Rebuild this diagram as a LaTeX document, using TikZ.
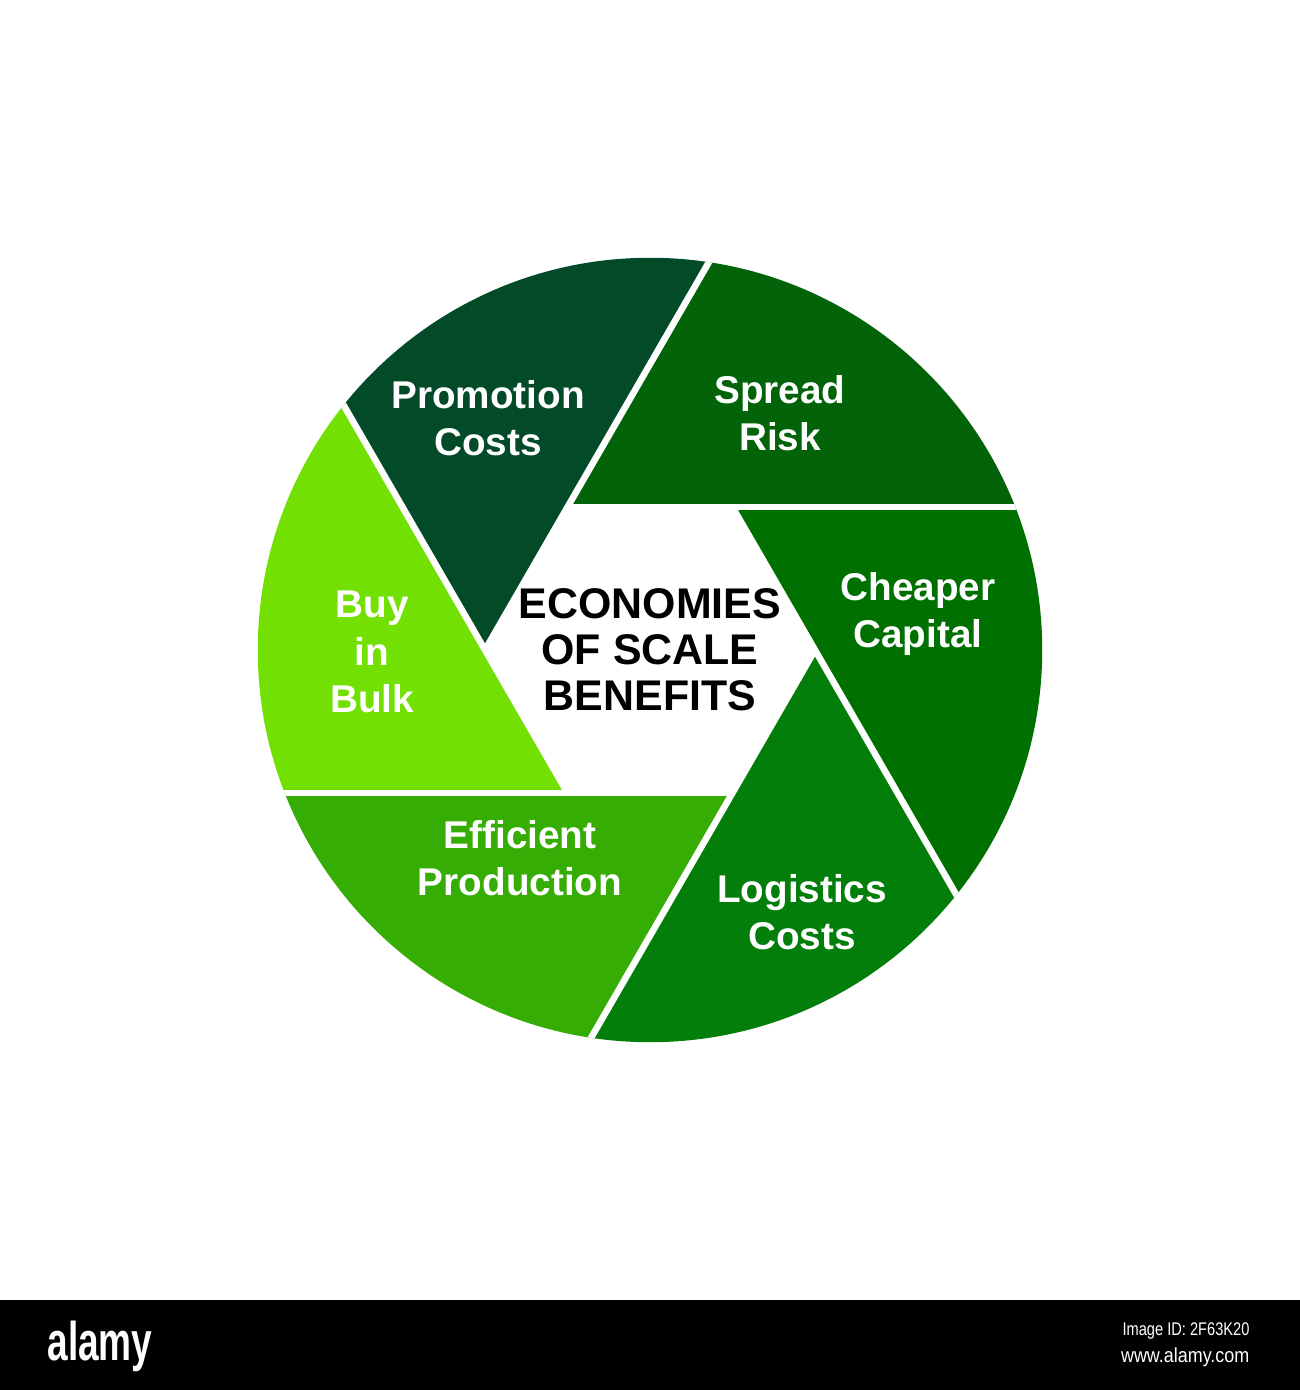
\documentclass[tikz,border=0pt]{standalone}
\usepackage{fontspec}
\setmainfont{Liberation Sans}
\usetikzlibrary{calc}
\definecolor{cPromo}{RGB}{3,75,40}
\definecolor{cSpread}{RGB}{2,99,8}
\definecolor{cCheap}{RGB}{0,112,0}
\definecolor{cLog}{RGB}{4,126,10}
\definecolor{cEff}{RGB}{54,173,4}
\definecolor{cBulk}{RGB}{114,224,3}
\tikzset{
  lbl/.style={text=white, font=\bfseries\fontsize{11}{13.4}\selectfont, align=center, inner sep=0pt},
  ctr/.style={text=black, font=\bfseries\fontsize{12.2}{13.1}\selectfont, align=center, inner sep=0pt},
  gap/.style={white, line width=0.065cm},
  wmark/.style={text=white, inner sep=0pt}
}
\begin{document}
\begin{tikzpicture}[x=0.01cm,y=0.01cm]
\useasboundingbox (0,0) rectangle (1300,1390);
\fill[white] (0,0) rectangle (1300,1390);
\coordinate (C) at (650,740);
\foreach \i/\a in {1/120,2/60,3/0,4/-60,5/-120,6/180}
  \coordinate (V\i) at ($(C)+(\a:165)$);
\begin{scope}
  \clip (C) circle[radius=3.92cm];
  \foreach \i/\da/\db/\col in {1/0/60/cSpread, 2/-60/0/cCheap, 3/-120/-60/cLog, 4/180/240/cEff, 5/120/180/cBulk, 6/60/120/cPromo} {
    \begin{scope}[shift={(V\i)}]
      \fill[\col] (0,0) -- (\da:1000) -- ({(\da+\db)/2}:2000) -- (\db:1000) -- cycle;
    \end{scope}
  }
  \foreach \i/\d in {1/0,2/-60,3/-120,4/180,5/120,6/60}
    \draw[gap] (V\i) -- ++(\d:1000);
\end{scope}
\node[lbl] (promo) at (488,972) {Promotion\\Costs};
\node[lbl] (spread) at (780,977) {Spread\\Risk};
\node[lbl] (cheap) at (918,776) {Cheaper\\Capital};
\node[lbl] (logi) at (802,478) {Logistics\\Costs};
\node[lbl] (eff) at (520,532) {Efficient\\Production};
\node[lbl] (bulk) at (372,738) {Buy\\in\\Bulk};
\node[ctr] (title) at (650,740) {ECONOMIES\\OF SCALE\\BENEFITS};
% bottom bar
\fill[black] (0,0) rectangle (1300,90);
\node[wmark, font=\bfseries\fontsize{15.5}{15.5}\selectfont, xscale=0.68] (alamy) at (100,44) {alamy};
\node[wmark, font=\fontsize{5.2}{5.2}\selectfont, xscale=0.8, anchor=east] (imgid) at (1250,59) {Image ID: 2F63K20};
\node[wmark, font=\fontsize{5.8}{5.8}\selectfont, xscale=0.88, anchor=east] (www) at (1250,33) {www.alamy.com};
\end{tikzpicture}
\end{document}
